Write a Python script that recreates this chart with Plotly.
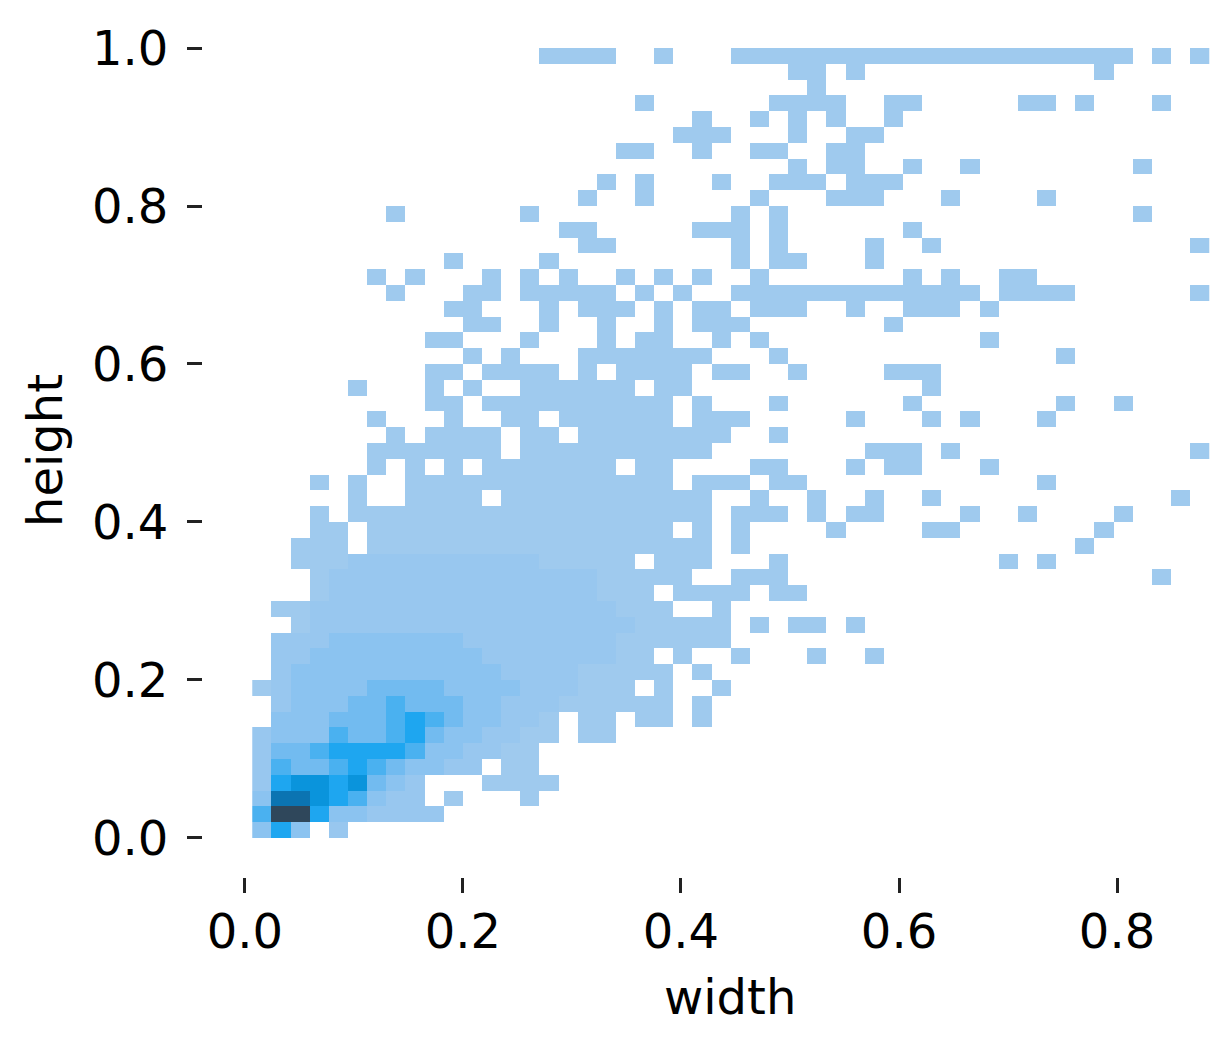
import plotly.graph_objects as go

# 2D histogram of box width vs height (50 x 50 bins)
x_start = 0.0067
x_bin = 0.01755
y_start = 0.0
y_bin = 0.02

x_ticks = [0.0, 0.2, 0.4, 0.6, 0.8]
y_ticks = [0.0, 0.2, 0.4, 0.6, 0.8, 1.0]

# Count level per cell, top row first ('.' = empty bin), 10 bins per group
count_rows = [
    ".......... .....1111. .1...11111 1111111111 111111.1.1",
    ".......... .......... ........11 .1........ ....1.....",
    ".......... .......... .........1 .......... ..........",
    ".......... .......... 1......111 1..11..... 11.1...1..",
    ".......... .......... ...1..1.1. 1..1...... ..........",
    ".......... .......... ..111...1. .11....... ..........",
    ".......... .........1 1..1..11.. 11........ ..........",
    ".......... .......... ........1. 11..1..1.. ......1...",
    ".......... ........1. 1...1..111 .111...... ..........",
    ".......... .......1.. 1.....1... 111...1... .1........",
    ".......1.. ....1..... .....1.1.. .......... ......1...",
    ".......... ......11.. ...111.1.. ....1..... ..........",
    ".......... .......11. .....1.1.. ..1..1.... .........1",
    ".......... 1....1.... .....1.11. ..1....... ..........",
    "......1.1. ..1.1.1..1 .1.1..1... ....1.1..1 1.........",
    ".......1.. .11.11111. 1.1..11111 11111111.1 111......1",
    ".......... 11...1.111 .1.11.111. .1..111.1. ..........",
    ".......... .11..1..1. .1.111.... ...1...... ..........",
    ".........1 1...1...1. 11..1.1... ........1. ..........",
    ".......... .1.1...111 1111...1.. .......... ..1.......",
    ".........1 1.1111.1.1 111.11..1. ...111.... ..........",
    ".....1...1 .1..111111 .11....... .....1.... ..........",
    ".........1 1.11111111 11.1...1.. ....1..... ..1..1....",
    "......1... 1..11.1111 11.111.... .1...1.1.. .1........",
    ".......1.1 111.11.111 11111..1.. .......... ..........",
    "......1111 111.111111 1111...... ..111.1... .........1",
    "......1.1. 1.1111111. 11....11.. .1.11...1. ..........",
    "...1.1..11 1111111111 11.111.11. .......... .1........",
    ".....1..11 11.1111111 1111..1..1 ..1..1.... ........1.",
    "...1.11111 1111111111 1111.111.1 .11....1.. 1....1....",
    "...11.1111 1111111111 11.1.1.... 1....11... ....1.....",
    "..111.1111 1111111111 1111.1.... .......... ...1......",
    "..11122222 2222211111 .111...1.. .........1 .1........",
    "...1222222 2222222211 111..111.. .......... .......1..",
    "...1222222 2222222211 1.1111.11. .......... ..........",
    ".112222222 2222222221 11..1..... .......... ..........",
    "..12222222 2222222222 11111.1.11 .1........ ..........",
    ".222333333 3222222221 11111..... .......... ..........",
    ".223333333 3322222221 1.1..1...1 ..1....... ..........",
    ".233333333 3332222111 11.1...... .......... ..........",
    "1233334444 3333222111 .1..1..... .......... ..........",
    ".233344544 4332221111 11.1...... .......... ..........",
    ".333444565 433221.11. 11.1...... .......... ..........",
    "2333544564 332211.11. .......... .......... ..........",
    "2445666653 32211..... .......... .......... ..........",
    "2544565433 22.11..... .......... .......... ..........",
    "267767432. ..1111.... .......... .......... ..........",
    "388765322. 1...1..... .......... .......... ..........",
    "5996332222 .......... .......... .......... ..........",
    "363.2..... .......... .......... .......... ..........",
]

level_colors = ["#9fcaee", "#98c7ef", "#8bc3f0", "#72bbf0", "#4ab1f0",
                "#1ea6f0", "#0a94dc", "#0b74b2", "#2f475b"]

z = []
for row in reversed(count_rows):
    cells = row.replace(" ", "")
    z.append([None if ch == "." else int(ch) for ch in cells])

colorscale = [[i / (len(level_colors) - 1), c] for i, c in enumerate(level_colors)]

fig = go.Figure(go.Heatmap(
    z=z,
    x0=x_start + x_bin / 2, dx=x_bin,
    y0=y_start + y_bin / 2, dy=y_bin,
    colorscale=colorscale,
    zmin=1, zmax=9,
    showscale=False,
    hoverongaps=False,
))

tick_font = dict(family="DejaVu Sans", size=48, color="black")
axis_style = dict(
    showgrid=False, zeroline=False, showline=False,
    ticks="outside", ticklen=15, tickwidth=2.5, tickcolor="#222",
    tickfont=tick_font, tickformat=".1f",
)

# the page adds an 8px body margin, so the plot area is shifted up/left by 8px
fig.update_layout(
    width=1230, height=1037,
    margin=dict(l=195, r=28, t=40, b=168),
    paper_bgcolor="white", plot_bgcolor="white",
    xaxis=dict(range=[-0.0385, 0.8853], tickvals=x_ticks, ticklabelstandoff=-3, **axis_style),
    yaxis=dict(range=[-0.0494, 1.0], tickvals=y_ticks, ticklabelstandoff=9, **axis_style),
    annotations=[
        dict(text="width", xref="x", yref="paper", x=0.445, y=-0.145,
             xanchor="center", yanchor="middle", showarrow=False, font=tick_font),
        dict(text="height", xref="paper", yref="y", x=-0.157, y=0.491,
             xanchor="center", yanchor="middle", textangle=-90, showarrow=False, font=tick_font),
    ],
)

fig.write_html("out.html")
